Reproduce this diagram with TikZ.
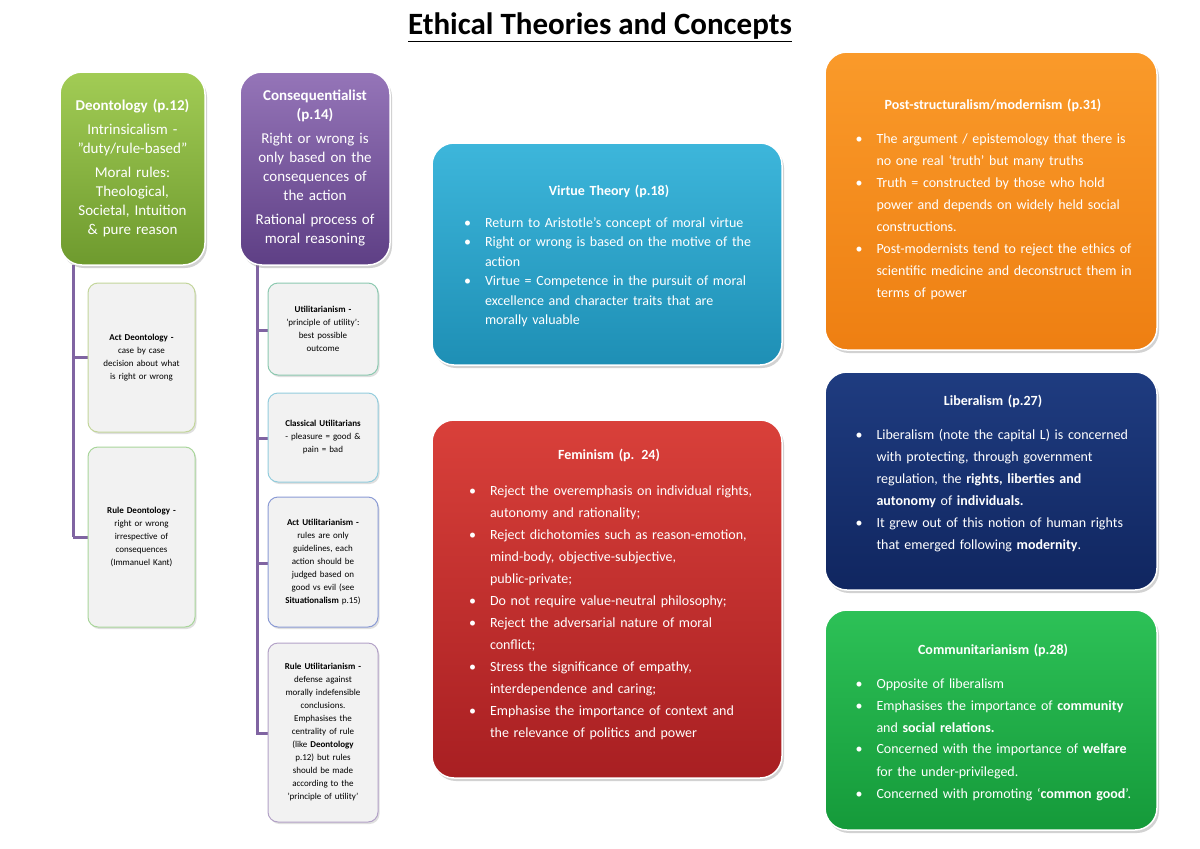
\documentclass[tikz,border=0pt]{standalone}
\usepackage{fontspec}
\setmainfont{Carlito}
\usepackage{enumitem}
\usetikzlibrary{shadows}
\definecolor{lineP}{HTML}{8064A2}
\definecolor{deT}{HTML}{A2CC55}\definecolor{deB}{HTML}{6E9A2E}
\definecolor{coT}{HTML}{9575B8}\definecolor{coB}{HTML}{5E3F85}
\definecolor{viT}{HTML}{3DB6DB}\definecolor{viB}{HTML}{1E8FB5}
\definecolor{feT}{HTML}{D9403A}\definecolor{feB}{HTML}{A81F22}
\definecolor{poT}{HTML}{FA9A2A}\definecolor{poB}{HTML}{EE7F12}
\definecolor{liT}{HTML}{1F3C80}\definecolor{liB}{HTML}{102660}
\definecolor{cmT}{HTML}{2DC157}\definecolor{cmB}{HTML}{159A3A}
\definecolor{bAD}{HTML}{C3D69B}\definecolor{bRD}{HTML}{A9D69B}
\definecolor{bU}{HTML}{8CC9B0}\definecolor{bC}{HTML}{93CDDD}
\definecolor{bAU}{HTML}{8B9BD5}\definecolor{bRU}{HTML}{B3A2C7}
\tikzset{
  bigbox/.style={rounded corners=22pt, draw=white, line width=1.5pt, drop shadow={opacity=0.35,shadow xshift=2pt,shadow yshift=-3pt}},
  subbox/.style={rounded corners=10pt, fill=black!5, line width=1pt, drop shadow={opacity=0.25,shadow xshift=1.5pt,shadow yshift=-2pt}, align=center, font=\fontsize{9}{13}\selectfont, inner sep=3pt},
  branch/.style={draw=lineP, line width=3pt},
  headtxt/.style={text=white, align=center, font=\fontsize{15}{19}\selectfont},
  bodytxt/.style={text=white, align=left, font=\fontsize{14}{22}\selectfont},
}
\newcommand\mybox[7]{% name, x1,y1,x2,y2, top color, bottom color
  \path[bigbox, top color=#6, bottom color=#7] (#2,#3) rectangle (#4,#5);
  \coordinate (#1) at ({(#2+#4)/2},{(#3+#5)/2});}
\newlist{bl}{itemize}{1}
\setlist[bl]{label=\textbullet, leftmargin=26pt, labelsep=14pt, itemsep=0pt, topsep=4pt, parsep=0pt}
\begin{document}
\begin{tikzpicture}[x=1pt,y=-1pt]
\useasboundingbox[fill=white] (0,0) rectangle (1200,849);
\node (title) at (600,27) {\fontsize{31}{35}\selectfont\bfseries\underline{Ethical Theories and Concepts}};

% branch lines
\draw[branch] (73,265) -- (73,537);
\draw[branch] (73,357) -- (88,357);
\draw[branch] (73,537) -- (88,537);
\draw[branch] (257,265) -- (257,735);
\foreach \yy in {330,438,563,733} \draw[branch] (257,\yy) -- (268,\yy);

% Deontology
\mybox{deon}{60}{72}{205}{265}{deT}{deB}
\node[headtxt, text width=140pt] (deont) at (deon) {\textbf{Deontology (p.12)}\\[5pt]
Intrinsicalism -\\ "duty/rule-based"\\[5pt] Moral rules:\\ Theological,\\ Societal, Intuition\\ \& pure reason};
% Consequentialist
\mybox{cons}{240}{72}{390}{265}{coT}{coB}
\node[headtxt, text width=145pt] (const) at (cons) {\textbf{Consequentialist}\\\textbf{(p.14)}\\[5pt]
Right or wrong is\\ only based on the\\ consequences of\\ the action\\[5pt] Rational process of\\ moral reasoning};

% sub boxes
\node[subbox, draw=bAD, minimum width=107pt, minimum height=149pt, text width=100pt] (actd) at (141.5,357.5) {\textbf{Act Deontology -}\\ case by case\\ decision about what\\ is right or wrong\\[40pt]};
\node[subbox, draw=bRD, minimum width=107pt, minimum height=180pt, text width=100pt] (ruled) at (141.5,537) {\textbf{Rule Deontology -}\\ right or wrong\\ irrespective of\\ consequences\\ (Immanuel Kant)\\[50pt]};
\node[subbox, draw=bU, minimum width=110pt, minimum height=92pt, text width=100pt] (util) at (323,329) {\textbf{Utilitarianism -}\\ 'principle of utility':\\ best possible\\ outcome\\[12pt]};
\node[subbox, draw=bC, minimum width=110pt, minimum height=89pt, text width=100pt] (clas) at (323,437.5) {\textbf{Classical Utilitarians}\\ - pleasure = good \&\\ pain = bad\\[18pt]};
\node[subbox, draw=bAU, minimum width=110pt, minimum height=130pt, text width=100pt] (actu) at (323,562) {\textbf{Act Utilitarianism -}\\ rules are only\\ guidelines, each\\ action should be\\ judged based on\\ good vs evil (see\\ \textbf{Situationalism} p.15)\\[6pt]};
\node[subbox, draw=bRU, minimum width=110pt, minimum height=179pt, text width=100pt] (ruleu) at (323,732.5) {\textbf{Rule Utilitarianism -}\\ defense against\\ morally indefensible\\ conclusions.\\ Emphasises the\\ centrality of rule\\ (like \textbf{Deontology}\\ p.12) but rules\\ should be made\\ according to the\\ 'principle of utility'\\[8pt]};

% Virtue
\mybox{virt}{432}{143}{782}{365}{viT}{viB}
\node[bodytxt, text width=300pt, font=\fontsize{14}{19.5}\selectfont] (virtt) at (609,256) {\centering\textbf{Virtue Theory (p.18)}\par\vspace{6pt}
\begin{bl}
\item Return to Aristotle's concept of moral virtue
\item Right or wrong is based on the motive of the action
\item Virtue = Competence in the pursuit of moral excellence and character traits that are morally valuable
\end{bl}};

% Feminism
\mybox{fem}{432}{420}{782}{778}{feT}{feB}
\node[bodytxt, text width=290pt] (femt) at (609,594) {\centering\textbf{Feminism (p. 24)}\par\vspace{8pt}
\begin{bl}
\item Reject the overemphasis on individual rights, autonomy and rationality;
\item Reject dichotomies such as reason-emotion, mind-body, objective-subjective, public-private;
\item Do not require value-neutral philosophy;
\item Reject the adversarial nature of moral conflict;
\item Stress the significance of empathy, interdependence and caring;
\item Emphasise the importance of context and the relevance of politics and power
\end{bl}};

% Post-structuralism
\mybox{post}{825}{52}{1157}{350}{poT}{poB}
\node[bodytxt, text width=285pt] (postt) at (993,199) {\centering\textbf{Post-structuralism/modernism (p.31)}\par\vspace{6pt}
\begin{bl}
\item The argument / epistemology that there is no one real `truth' but many truths
\item Truth = constructed by those who hold power and depends on widely held social constructions.
\item Post-modernists tend to reject the ethics of scientific medicine and deconstruct them in terms of power
\end{bl}};

% Liberalism
\mybox{lib}{825}{372}{1157}{590}{liT}{liB}
\node[bodytxt, text width=285pt] (libt) at (993,474) {\centering\textbf{Liberalism (p.27)}\par\vspace{6pt}
\begin{bl}
\item Liberalism (note the capital L) is concerned with protecting, through government regulation, the \textbf{rights, liberties and autonomy} of \textbf{individuals.}
\item It grew out of this notion of human rights that emerged following \textbf{modernity}.
\end{bl}};

% Communitarianism
\mybox{com}{825}{610}{1157}{830}{cmT}{cmB}
\node[bodytxt, text width=285pt] (comt) at (993,722) {\centering\textbf{Communitarianism (p.28)}\par\vspace{6pt}
\begin{bl}
\item Opposite of liberalism
\item Emphasises the importance of \textbf{community} and \textbf{social relations.}
\item Concerned with the importance of \textbf{welfare} for the under-privileged.
\item Concerned with promoting `\textbf{common good}'.
\end{bl}};
\end{tikzpicture}
\end{document}
